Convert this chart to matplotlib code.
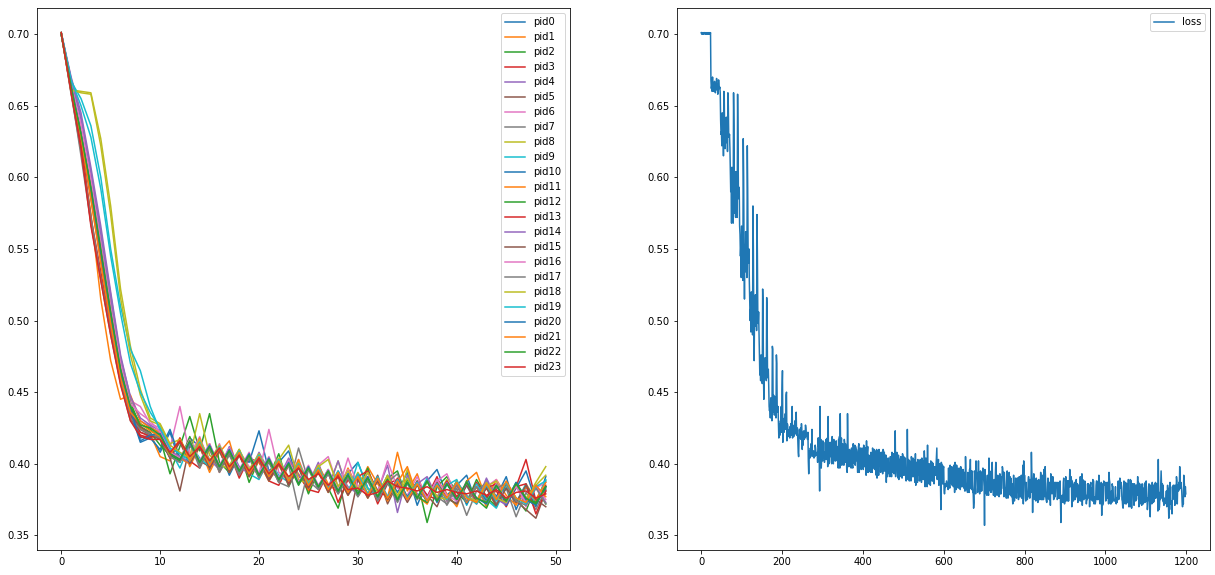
import numpy as np
import matplotlib
matplotlib.use("Agg")
import matplotlib.pyplot as plt

# per-process loss, one value per epoch (50 epochs)
pid0 = [0.701, 0.668, 0.640, 0.603, 0.560, 0.515, 0.470, 0.440, 0.418, 0.420,
        0.408, 0.422, 0.401, 0.418, 0.412, 0.396, 0.410, 0.392, 0.406, 0.401,
        0.423, 0.395, 0.401, 0.409, 0.386, 0.398, 0.384, 0.396, 0.380, 0.393,
        0.401, 0.383, 0.377, 0.392, 0.380, 0.394, 0.371, 0.388, 0.396, 0.378,
        0.385, 0.392, 0.372, 0.388, 0.377, 0.391, 0.368, 0.384, 0.370, 0.391]
pid1 = [0.700, 0.662, 0.630, 0.590, 0.545, 0.500, 0.462, 0.437, 0.425, 0.421,
        0.405, 0.402, 0.418, 0.398, 0.412, 0.394, 0.408, 0.416, 0.392, 0.406,
        0.391, 0.404, 0.387, 0.402, 0.393, 0.381, 0.399, 0.386, 0.380, 0.397,
        0.383, 0.398, 0.386, 0.376, 0.408, 0.381, 0.393, 0.372, 0.389, 0.379,
        0.370, 0.388, 0.394, 0.375, 0.389, 0.378, 0.371, 0.386, 0.375, 0.388]
pid2 = [0.701, 0.664, 0.632, 0.595, 0.552, 0.508, 0.468, 0.440, 0.428, 0.424,
        0.418, 0.393, 0.412, 0.433, 0.409, 0.435, 0.401, 0.394, 0.410, 0.387,
        0.403, 0.391, 0.407, 0.384, 0.398, 0.379, 0.395, 0.383, 0.369, 0.392,
        0.381, 0.397, 0.376, 0.390, 0.395, 0.375, 0.388, 0.359, 0.384, 0.391,
        0.380, 0.373, 0.389, 0.377, 0.370, 0.387, 0.376, 0.367, 0.385, 0.372]
pid3 = [0.700, 0.660, 0.622, 0.568, 0.530, 0.492, 0.458, 0.432, 0.420, 0.418,
        0.424, 0.404, 0.418, 0.402, 0.397, 0.414, 0.394, 0.408, 0.390, 0.404,
        0.401, 0.388, 0.385, 0.399, 0.392, 0.382, 0.380, 0.394, 0.373, 0.389,
        0.378, 0.391, 0.372, 0.386, 0.389, 0.375, 0.387, 0.377, 0.391, 0.374,
        0.385, 0.372, 0.387, 0.377, 0.381, 0.370, 0.384, 0.403, 0.374, 0.385]
pid4 = [0.701, 0.670, 0.645, 0.607, 0.566, 0.520, 0.476, 0.446, 0.430, 0.426,
        0.421, 0.409, 0.404, 0.400, 0.417, 0.403, 0.396, 0.412, 0.398, 0.393,
        0.408, 0.395, 0.390, 0.404, 0.392, 0.386, 0.401, 0.381, 0.395, 0.384,
        0.379, 0.394, 0.381, 0.399, 0.366, 0.392, 0.379, 0.376, 0.389, 0.374,
        0.387, 0.378, 0.373, 0.390, 0.376, 0.371, 0.386, 0.375, 0.372, 0.384]
pid5 = [0.700, 0.661, 0.625, 0.585, 0.542, 0.500, 0.462, 0.436, 0.424, 0.420,
        0.418, 0.404, 0.381, 0.413, 0.402, 0.398, 0.412, 0.394, 0.407, 0.391,
        0.404, 0.389, 0.401, 0.387, 0.398, 0.384, 0.395, 0.381, 0.393, 0.357,
        0.389, 0.377, 0.392, 0.372, 0.386, 0.375, 0.388, 0.378, 0.370, 0.387,
        0.375, 0.385, 0.372, 0.383, 0.370, 0.386, 0.374, 0.368, 0.362, 0.381]
pid6 = [0.701, 0.666, 0.638, 0.600, 0.556, 0.512, 0.472, 0.444, 0.440, 0.428,
        0.425, 0.411, 0.440, 0.406, 0.419, 0.400, 0.414, 0.395, 0.409, 0.398,
        0.393, 0.424, 0.394, 0.389, 0.403, 0.386, 0.399, 0.405, 0.384, 0.396,
        0.383, 0.394, 0.380, 0.402, 0.383, 0.378, 0.391, 0.375, 0.388, 0.393,
        0.376, 0.387, 0.372, 0.384, 0.389, 0.374, 0.385, 0.370, 0.383, 0.387]
pid7 = [0.700, 0.660, 0.615, 0.568, 0.528, 0.490, 0.456, 0.430, 0.422, 0.420,
        0.417, 0.405, 0.401, 0.415, 0.397, 0.410, 0.394, 0.406, 0.392, 0.404,
        0.390, 0.401, 0.387, 0.384, 0.411, 0.388, 0.382, 0.393, 0.379, 0.390,
        0.377, 0.388, 0.374, 0.387, 0.393, 0.375, 0.386, 0.373, 0.385, 0.371,
        0.383, 0.364, 0.381, 0.387, 0.372, 0.383, 0.363, 0.380, 0.368, 0.382]
pid8 = [0.701, 0.661, 0.660, 0.659, 0.627, 0.580, 0.522, 0.482, 0.452, 0.432,
        0.428, 0.414, 0.417, 0.405, 0.435, 0.406, 0.400, 0.396, 0.410, 0.394,
        0.406, 0.392, 0.403, 0.413, 0.389, 0.386, 0.399, 0.383, 0.402, 0.381,
        0.394, 0.382, 0.378, 0.392, 0.376, 0.396, 0.375, 0.387, 0.377, 0.389,
        0.374, 0.386, 0.373, 0.384, 0.388, 0.372, 0.385, 0.375, 0.387, 0.398]
pid9 = [0.701, 0.667, 0.655, 0.636, 0.600, 0.550, 0.510, 0.480, 0.465, 0.440,
        0.423, 0.410, 0.397, 0.414, 0.404, 0.398, 0.409, 0.395, 0.406, 0.393,
        0.389, 0.403, 0.392, 0.387, 0.397, 0.384, 0.395, 0.382, 0.392, 0.379,
        0.401, 0.383, 0.377, 0.388, 0.375, 0.387, 0.376, 0.390, 0.374, 0.385,
        0.389, 0.371, 0.386, 0.375, 0.369, 0.384, 0.373, 0.386, 0.372, 0.389]
pid10 = [0.700, 0.663, 0.628, 0.590, 0.546, 0.502, 0.462, 0.436, 0.415, 0.418,
         0.410, 0.424, 0.404, 0.401, 0.414, 0.399, 0.411, 0.396, 0.408, 0.393,
         0.403, 0.390, 0.402, 0.388, 0.399, 0.385, 0.396, 0.382, 0.394, 0.380,
         0.392, 0.379, 0.390, 0.376, 0.389, 0.377, 0.387, 0.373, 0.385, 0.375,
         0.388, 0.372, 0.384, 0.374, 0.386, 0.371, 0.383, 0.395, 0.373, 0.383]
pid11 = [0.701, 0.659, 0.620, 0.575, 0.515, 0.472, 0.445, 0.448, 0.430, 0.425,
         0.422, 0.408, 0.404, 0.400, 0.418, 0.397, 0.409, 0.394, 0.406, 0.391,
         0.402, 0.388, 0.399, 0.386, 0.403, 0.382, 0.395, 0.380, 0.392, 0.378,
         0.390, 0.376, 0.388, 0.374, 0.387, 0.398, 0.377, 0.372, 0.386, 0.375,
         0.388, 0.373, 0.384, 0.370, 0.383, 0.386, 0.372, 0.384, 0.374, 0.387]
pid12 = [0.700, 0.665, 0.633, 0.596, 0.553, 0.510, 0.470, 0.443, 0.426, 0.422,
         0.413, 0.406, 0.402, 0.419, 0.399, 0.411, 0.396, 0.408, 0.394, 0.405,
         0.391, 0.402, 0.388, 0.400, 0.385, 0.397, 0.383, 0.394, 0.380, 0.392,
         0.378, 0.389, 0.376, 0.387, 0.374, 0.389, 0.377, 0.373, 0.387, 0.376,
         0.372, 0.388, 0.375, 0.369, 0.385, 0.374, 0.387, 0.376, 0.373, 0.384]
pid13 = [0.701, 0.661, 0.624, 0.572, 0.534, 0.496, 0.460, 0.434, 0.422, 0.419,
         0.419, 0.405, 0.416, 0.401, 0.413, 0.398, 0.410, 0.395, 0.407, 0.392,
         0.404, 0.389, 0.401, 0.386, 0.398, 0.384, 0.396, 0.381, 0.393, 0.379,
         0.391, 0.395, 0.381, 0.377, 0.390, 0.376, 0.387, 0.378, 0.375, 0.388,
         0.377, 0.386, 0.374, 0.383, 0.386, 0.373, 0.384, 0.386, 0.365, 0.381]
pid14 = [0.700, 0.669, 0.642, 0.604, 0.562, 0.518, 0.474, 0.447, 0.432, 0.427,
         0.423, 0.409, 0.405, 0.401, 0.414, 0.399, 0.411, 0.396, 0.408, 0.394,
         0.405, 0.392, 0.403, 0.389, 0.400, 0.386, 0.397, 0.383, 0.402, 0.380,
         0.392, 0.378, 0.390, 0.376, 0.388, 0.374, 0.386, 0.391, 0.376, 0.387,
         0.373, 0.385, 0.374, 0.388, 0.375, 0.372, 0.385, 0.374, 0.384, 0.373]
pid15 = [0.701, 0.662, 0.627, 0.588, 0.545, 0.503, 0.464, 0.438, 0.426, 0.421,
         0.417, 0.404, 0.415, 0.400, 0.412, 0.397, 0.409, 0.394, 0.406, 0.391,
         0.403, 0.388, 0.400, 0.385, 0.397, 0.383, 0.394, 0.380, 0.391, 0.378,
         0.389, 0.376, 0.388, 0.375, 0.386, 0.373, 0.385, 0.374, 0.387, 0.376,
         0.372, 0.385, 0.374, 0.384, 0.371, 0.383, 0.373, 0.385, 0.375, 0.370]
pid16 = [0.700, 0.665, 0.636, 0.598, 0.554, 0.510, 0.470, 0.442, 0.435, 0.430,
         0.422, 0.408, 0.404, 0.417, 0.402, 0.414, 0.399, 0.411, 0.396, 0.408,
         0.393, 0.405, 0.390, 0.402, 0.387, 0.399, 0.385, 0.396, 0.382, 0.404,
         0.384, 0.379, 0.390, 0.377, 0.388, 0.375, 0.387, 0.376, 0.389, 0.378,
         0.374, 0.387, 0.376, 0.373, 0.386, 0.375, 0.384, 0.373, 0.385, 0.375]
pid17 = [0.701, 0.658, 0.618, 0.572, 0.530, 0.493, 0.458, 0.432, 0.424, 0.421,
         0.418, 0.405, 0.401, 0.414, 0.399, 0.411, 0.396, 0.408, 0.393, 0.405,
         0.390, 0.402, 0.387, 0.399, 0.368, 0.396, 0.382, 0.393, 0.379, 0.391,
         0.377, 0.389, 0.375, 0.387, 0.373, 0.386, 0.375, 0.388, 0.377, 0.372,
         0.385, 0.374, 0.384, 0.372, 0.383, 0.386, 0.374, 0.371, 0.383, 0.372]
pid18 = [0.700, 0.661, 0.659, 0.658, 0.622, 0.574, 0.516, 0.476, 0.448, 0.430,
         0.427, 0.413, 0.408, 0.404, 0.417, 0.402, 0.413, 0.399, 0.410, 0.396,
         0.407, 0.393, 0.404, 0.390, 0.401, 0.387, 0.398, 0.403, 0.384, 0.395,
         0.382, 0.394, 0.380, 0.391, 0.378, 0.390, 0.376, 0.388, 0.377, 0.375,
         0.388, 0.377, 0.374, 0.387, 0.376, 0.373, 0.386, 0.376, 0.385, 0.392]
pid19 = [0.701, 0.668, 0.650, 0.628, 0.592, 0.545, 0.505, 0.470, 0.450, 0.436,
         0.425, 0.411, 0.407, 0.402, 0.415, 0.400, 0.412, 0.397, 0.409, 0.394,
         0.406, 0.391, 0.403, 0.388, 0.400, 0.386, 0.397, 0.383, 0.395, 0.381,
         0.393, 0.379, 0.391, 0.377, 0.389, 0.376, 0.387, 0.374, 0.386, 0.375,
         0.388, 0.377, 0.372, 0.385, 0.374, 0.387, 0.376, 0.372, 0.384, 0.388]
pid20 = [0.700, 0.664, 0.630, 0.592, 0.548, 0.505, 0.465, 0.438, 0.416, 0.420,
         0.421, 0.407, 0.403, 0.415, 0.401, 0.413, 0.398, 0.410, 0.395, 0.407,
         0.392, 0.404, 0.389, 0.401, 0.386, 0.398, 0.384, 0.395, 0.381, 0.393,
         0.379, 0.391, 0.377, 0.389, 0.375, 0.387, 0.376, 0.388, 0.373, 0.386,
         0.375, 0.387, 0.376, 0.372, 0.385, 0.374, 0.387, 0.375, 0.371, 0.384]
pid21 = [0.701, 0.662, 0.628, 0.585, 0.540, 0.498, 0.460, 0.436, 0.428, 0.423,
         0.419, 0.406, 0.417, 0.402, 0.414, 0.399, 0.411, 0.396, 0.408, 0.393,
         0.405, 0.391, 0.402, 0.388, 0.399, 0.385, 0.396, 0.382, 0.394, 0.380,
         0.391, 0.378, 0.390, 0.376, 0.388, 0.375, 0.386, 0.374, 0.385, 0.376,
         0.387, 0.376, 0.373, 0.386, 0.375, 0.388, 0.376, 0.373, 0.385, 0.377]
pid22 = [0.700, 0.663, 0.630, 0.593, 0.550, 0.506, 0.466, 0.440, 0.427, 0.425,
         0.420, 0.407, 0.403, 0.416, 0.401, 0.412, 0.398, 0.409, 0.395, 0.406,
         0.392, 0.403, 0.389, 0.400, 0.386, 0.397, 0.384, 0.395, 0.381, 0.392,
         0.379, 0.390, 0.377, 0.389, 0.375, 0.387, 0.376, 0.388, 0.374, 0.386,
         0.375, 0.387, 0.376, 0.373, 0.385, 0.374, 0.386, 0.376, 0.372, 0.384]
pid23 = [0.701, 0.659, 0.620, 0.566, 0.528, 0.490, 0.455, 0.430, 0.419, 0.417,
         0.417, 0.408, 0.416, 0.405, 0.412, 0.402, 0.411, 0.398, 0.406, 0.395,
         0.404, 0.393, 0.400, 0.391, 0.397, 0.389, 0.393, 0.385, 0.391, 0.382,
         0.383, 0.378, 0.380, 0.388, 0.384, 0.383, 0.381, 0.384, 0.380, 0.382,
         0.380, 0.379, 0.381, 0.378, 0.382, 0.376, 0.380, 0.381, 0.376, 0.379]

pids = [pid0, pid1, pid2, pid3, pid4, pid5, pid6, pid7, pid8, pid9, pid10, pid11,
        pid12, pid13, pid14, pid15, pid16, pid17, pid18, pid19, pid20, pid21, pid22, pid23]
labels = [f"pid{i}" for i in range(len(pids))]

# the right panel is the same losses logged step by step (all pids per epoch)
n_epochs = len(pid0)
loss = [p[e] for e in range(n_epochs) for p in pids]

fig = plt.figure(figsize=(1215 / 72, 575 / 72), dpi=72)
ax1 = fig.add_axes([37 / 1215, 25 / 575, 533 / 1215, 542 / 575])
ax2 = fig.add_axes([677 / 1215, 25 / 575, 533 / 1215, 542 / 575])

for vals, lab in zip(pids, labels):
    ax1.plot(range(len(vals)), vals, label=lab)
ax1.legend(loc="upper right")

ax2.plot(range(len(loss)), loss, label="loss")
ax2.legend(loc="upper right")

for ax in (ax1, ax2):
    ax.tick_params(labelsize=10)

fig.savefig("out.png", dpi=72)
